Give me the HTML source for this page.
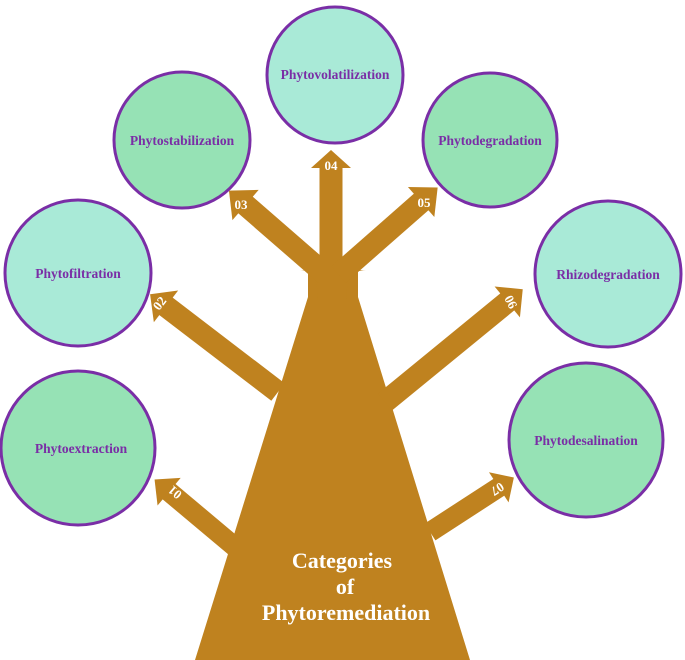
<!DOCTYPE html>
<html><head><style>
html,body{margin:0;padding:0;background:#fff;}
svg{display:block;}
.c{stroke:#7a2ea6;stroke-width:3;}
.t{font-family:"Liberation Serif",serif;font-weight:bold;font-size:13.5px;fill:#7a2ea6;text-anchor:middle;}
.n{font-family:"Liberation Serif",serif;font-weight:bold;font-size:13px;fill:#fff;text-anchor:middle;}
.m{font-family:"Liberation Serif",serif;font-weight:bold;font-size:22px;fill:#fff;text-anchor:middle;}
</style></head><body>
<svg width="685" height="660" viewBox="0 0 685 660" xmlns="http://www.w3.org/2000/svg">
<g fill="#bf821f">
<polygon points="195,660 308,297 308,270 358,270 358,297 470,660"/>
<path d="M300,270 Q318,270 318,300 L346,300 Q346,270 366,270 Z"/>
<!-- arrows: translate(start) rotate(angle); length L -->
<g transform="translate(278,392) rotate(217.4)"><rect x="0" y="-11" width="143" height="22"/><polygon points="141,-20 161,0 141,20"/></g>
<g transform="translate(318,268) rotate(221)"><rect x="-10" y="-11" width="108" height="22"/><polygon points="96,-20 118,0 96,20"/></g>
<g transform="translate(331,300) rotate(-90)"><rect x="0" y="-11.5" width="135" height="23"/><polygon points="132,-20 150,0 132,20"/></g>
<g transform="translate(346,268) rotate(-41.3)"><rect x="-10" y="-11" width="112" height="22"/><polygon points="100,-20 122,0 100,20"/></g>
<g transform="translate(385,402) rotate(-39.3)"><rect x="0" y="-11" width="160" height="22"/><polygon points="158,-20 178,0 158,20"/></g>
<g transform="translate(235,547) rotate(220)"><rect x="0" y="-10" width="88" height="20"/><polygon points="86,-18 105,0 86,18"/></g>
<g transform="translate(430,532) rotate(-33)"><rect x="0" y="-10" width="84" height="20"/><polygon points="82,-18 100,0 82,18"/></g>
</g>
<text class="n" x="163" y="306" transform="rotate(-52 163 306)">02</text>
<text class="n" x="241" y="209">03</text>
<text class="n" x="331" y="170">04</text>
<text class="n" x="424" y="207">05</text>
<text class="n" x="507" y="304" transform="rotate(62 507 304)">06</text>
<text class="n" x="172" y="496" transform="rotate(220 172 496) translate(0 9)">01</text>
<text class="n" x="500" y="493" transform="rotate(147 500 493) translate(0 9)">07</text>

<circle class="c" cx="335" cy="75" r="68" fill="#a9ead7"/>
<circle class="c" cx="182" cy="140" r="68" fill="#96e2b5"/>
<circle class="c" cx="490" cy="140" r="67" fill="#96e2b5"/>
<circle class="c" cx="78" cy="273" r="73" fill="#a9ead7"/>
<circle class="c" cx="608" cy="274" r="73" fill="#a9ead7"/>
<circle class="c" cx="78" cy="448" r="77" fill="#96e2b5"/>
<circle class="c" cx="586" cy="440" r="77" fill="#96e2b5"/>

<text class="t" x="335" y="79">Phytovolatilization</text>
<text class="t" x="182" y="145">Phytostabilization</text>
<text class="t" x="490" y="145">Phytodegradation</text>
<text class="t" x="78" y="278">Phytofiltration</text>
<text class="t" x="608" y="279">Rhizodegradation</text>
<text class="t" x="81" y="453">Phytoextraction</text>
<text class="t" x="586" y="445">Phytodesalination</text>

<text class="m" x="342" y="568">Categories</text>
<text class="m" x="345" y="594">of</text>
<text class="m" x="346" y="620">Phytoremediation</text>
</svg>
</body></html>
